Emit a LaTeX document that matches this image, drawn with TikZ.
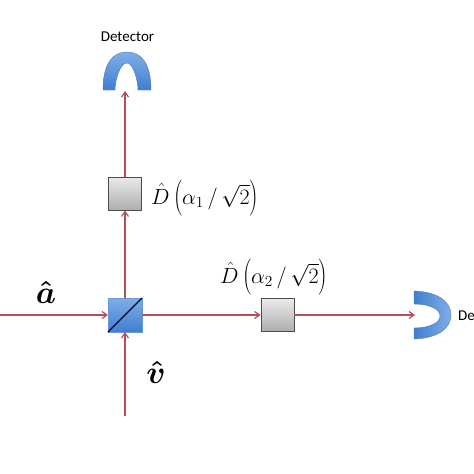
\documentclass[tikz,border=0pt]{standalone}
\usepackage{fix-cm}
\usepackage{fontspec}
\usetikzlibrary{arrows.meta}
\setmainfont{Carlito}
\definecolor{raycol}{HTML}{B2505A}
\definecolor{bluedk}{HTML}{3F7FD0}
\definecolor{bluelt}{HTML}{7FAEE8}
\newcommand{\tallstrut}{\vrule height 24pt depth 12pt width 0pt}
\tikzset{
  ray/.style={draw=raycol,line width=1.3pt,-{Straight Barb[length=5pt,width=7pt,line width=1.2pt]}},
  graybox/.style={draw=black!70,line width=0.8pt,minimum size=33pt,inner sep=0pt,top color=black!8,bottom color=black!32},
  splitter/.style={draw=bluedk!80,line width=0.5pt,minimum size=33.5pt,inner sep=0pt,top color=bluelt,bottom color=bluedk},
  lbl/.style={inner sep=0pt,text=black},
  dettext/.style={lbl,font=\fontsize{15pt}{16pt}\selectfont},
  opname/.style={lbl,anchor=base west,font=\fontsize{22pt}{24pt}\selectfont},
  fieldname/.style={lbl,anchor=base,font=\fontsize{32pt}{34pt}\selectfont\boldmath},
}
\begin{document}
\begin{tikzpicture}[x=1pt,y=-1pt]
\useasboundingbox[fill=white] (0,0) rectangle (474,474);
% detector top
\path[top color=bluelt,bottom color=bluedk,draw=bluedk!70!black!80,line width=0.4pt]
  (103,90) .. controls (103,63) and (113,52) .. (127,52) .. controls (141,52) and (151,63) .. (151,90) -- (138,90)
  .. controls (138,80) and (133,63) .. (127,63) .. controls (120,63) and (115,80) .. (115,90) -- cycle;
% detector right
\path[left color=bluedk,right color=bluelt,draw=bluedk!70!black!80,line width=0.4pt]
  (414,291) .. controls (440,292) and (451,303) .. (451,315) .. controls (451,327) and (440,338) .. (414,339) -- (414,328)
  .. controls (429,328) and (440,323) .. (440,316) .. controls (440,309) and (429,304) .. (414,304) -- cycle;
% nodes
\node[splitter] (bs) at (125,315) {};
\node[graybox] (box1) at (125,193.5) {};
\node[graybox] (box2) at (277.5,315) {};
\coordinate (det1) at (125,91);
\coordinate (det2) at (415,315);
\coordinate (inleft) at (0,315);
\coordinate (inbot) at (125,416);
\draw[black!85!blue,line width=1.1pt] (bs.south west) -- (bs.north east);
% connectors
\draw[ray] (inleft) -- (bs.west);
\draw[ray] (inbot) -- (bs.south);
\draw[ray] (bs.north) -- (box1.south);
\draw[ray] (box1.north) -- (det1);
\draw[ray] (bs.east) -- (box2.west);
\draw[ray] (box2.east) -- (det2);
% labels
\node[dettext] (t1) at (127.5,37) {Detector};
\node[dettext,anchor=west] (t2) at (458,316) {De};
\node[fieldname] (a) at (46,303) {$\hat{a}$};
\node[fieldname] (v) at (156,383) {$\hat{v}$};
\node[opname] (d1) at (151,204) {$\hat{D}\left(\tallstrut\alpha_1\,/\,\sqrt{2}\right)$};
\node[opname] (d2) at (220,283) {$\hat{D}\left(\tallstrut\alpha_2\,/\,\sqrt{2}\right)$};
\end{tikzpicture}
\end{document}
